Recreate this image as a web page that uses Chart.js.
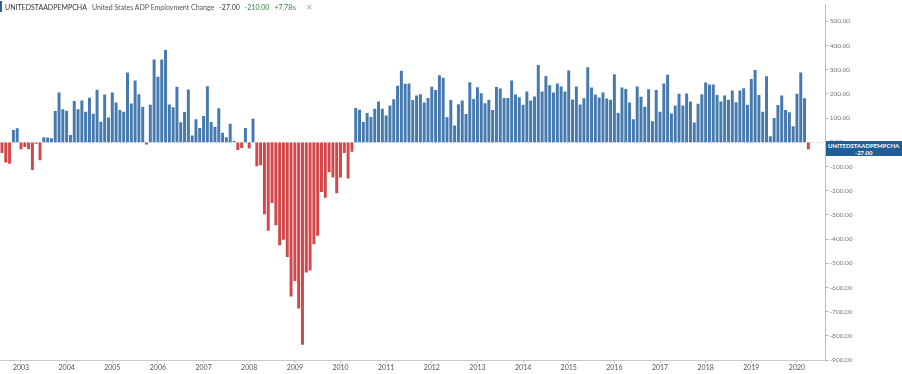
<!DOCTYPE html>
<html>
<head>
<meta charset="utf-8">
<script src="https://cdn.jsdelivr.net/npm/chart.js@4.4.1/dist/chart.umd.min.js"></script>
<style>
  body { margin: 0; background: #fff; font-family: Lato, "Open Sans", sans-serif; }
  .wrap { position: relative; width: 902px; height: 374px; }
  canvas { position: absolute; left: 0; top: 0; }
  .head { position: absolute; left: 0; top: 1px; height: 12px; font-size: 7px; line-height: 12px; white-space: nowrap; color: #333; }
  .head .mark { display: inline-block; width: 2px; height: 11px; background: #2c5f97; vertical-align: top; margin-right: 3px; }
  .head span { margin-right: 5px; }
  .head .desc { color: #555; }
  .head .up { color: #2e8540; }
  .head .pct { font-size: 5px; }
  .head .x { color: #aaa; font-size: 8px; }
  .lastbox { position: absolute; left: 826px; width: 76px; height: 15px; background: #215d97; color: #fff;
             font-size: 6px; font-weight: bold; text-align: center; line-height: 7px; padding-top: 0.5px; box-sizing: border-box; }
</style>
</head>
<body>
<div class="wrap">
  <canvas id="adpChart" width="902" height="374"></canvas>
  <div class="head">
    <span class="mark"></span><span>UNITEDSTAADPEMPCHA</span><span class="desc">United States ADP Employment Change</span><span>-27.00</span><span class="up">-210.00</span><span class="up">+7.78<span class="pct">%</span></span><span class="x">&#x2715;</span>
  </div>
  <div class="lastbox" id="lastBox">UNITEDSTAADPEMPCHA<br>-27.00</div>
</div>
<script>
// monthly ADP employment change (thousands), Jul 2002 .. Mar 2020
const startYear = 2002;
const startMonth = 7;
const adpChange = [
  -43, -82, -87, 49, 57, -27,
  -18, -27, -113, -5, -73, 20, 18, 15, 128, 205, 135, 129,
  29, 169, 135, 171, 125, 183, 117, 216, 84, 196, 101, 205,
  163, 132, 125, 287, 159, 254, 197, 145, -8, 154, 341, 270,
  341, 380, 155, 144, 228, 82, 124, 217, 27, 94, 58, 107,
  230, 83, 63, 139, 38, 20, 75, 4, -30, -22, 58, -24,
  96, -98, -94, -296, -364, -250, -342, -424, -401, -473, -636, -572,
  -686, -836, -537, -529, -420, -385, -204, -228, -122, -144, -209, -144,
  -43, -148, -38, 140, 133, 83, 120, 103, 137, 167, 137, 109,
  151, 177, 232, 294, 241, 242, 173, 192, 197, 163, 182, 228,
  215, 276, 265, 102, 174, 68, 156, 171, 116, 247, 178, 226,
  201, 160, 175, 132, 227, 221, 182, 182, 254, 196, 185, 154,
  209, 171, 188, 318, 209, 273, 234, 204, 242, 229, 209, 295,
  176, 229, 155, 181, 309, 225, 196, 184, 204, 180, 175, 280,
  120, 225, 219, 163, 94, 229, 187, 146, 218, 86, 215, 125,
  242, 278, 118, 151, 199, 151, 200, 167, 80, 158, 197, 246,
  238, 238, 194, 167, 192, 175, 213, 164, 213, 222, 154, 260,
  297, 194, 125, 272, 24, 99, 153, 192, 132, 123, 65, 199,
  287, 181, -27
];
const yearTicks = [2003, 2004, 2005, 2006, 2007, 2008, 2009, 2010, 2011, 2012, 2013, 2014, 2015, 2016, 2017, 2018, 2019, 2020];
const valueTicks = [-900, -800, -700, -600, -500, -400, -300, -200, -100, 0, 100, 200, 300, 400, 500];

const months = adpChange.map((v, i) => {
  const m = startMonth - 1 + i;
  return (startYear + Math.floor(m / 12)) + '-' + String(m % 12 + 1).padStart(2, '0');
});

// bars sit at month end, so a month's bar lands just before the next month's start
const points = months.map((label, i) => {
  const parts = label.split('-');
  return { x: +parts[0] + (+parts[1]) / 12, y: adpChange[i] };
});

const BLUE = '#4679ad';
const RED = '#d2484a';

const zeroLine = {
  id: 'zeroLine',
  beforeDatasetsDraw(chart) {
    const { ctx, chartArea, scales } = chart;
    const y = Math.round(scales.y.getPixelForValue(0)) + 0.5;
    ctx.save();
    ctx.strokeStyle = '#b9d0e8';
    ctx.lineWidth = 1;
    ctx.setLineDash([1, 2]);
    ctx.beginPath();
    ctx.moveTo(chartArea.left, y);
    ctx.lineTo(chartArea.right, y);
    ctx.stroke();
    ctx.restore();
  },
  afterDraw(chart) {
    const box = document.getElementById('lastBox');
    const last = adpChange[adpChange.length - 1];
    const y = chart.scales.y.getPixelForValue(last);
    box.style.top = (y - 7.5) + 'px';
    box.style.left = chart.chartArea.right + 'px';
  }
};

new Chart(document.getElementById('adpChart'), {
  type: 'bar',
  data: {
    datasets: [{
      label: 'UNITEDSTAADPEMPCHA',
      data: points,
      backgroundColor: adpChange.map(v => v < 0 ? RED : BLUE),
      borderWidth: 0,
      barThickness: 2.3
    }]
  },
  options: {
    responsive: false,
    animation: false,
    devicePixelRatio: 1,
    layout: { padding: 0 },
    plugins: { legend: { display: false }, tooltip: { enabled: false } },
    scales: {
      x: {
        type: 'linear',
        min: 2002.54,
        max: 2020.63,
        offset: false,
        afterBuildTicks: axis => { axis.ticks = yearTicks.map(v => ({ value: v })); },
        afterFit: axis => { axis.height = 14; },
        grid: { drawOnChartArea: false, drawTicks: true, tickLength: 3, color: '#c8c8c8', offset: false },
        border: { color: '#c8c8c8' },
        ticks: {
          callback: v => String(v),
          color: '#555',
          padding: 1,
          maxRotation: 0,
          autoSkip: false,
          font: { family: 'Lato', size: 7 }
        }
      },
      y: {
        position: 'right',
        min: -900,
        max: 568,
        afterBuildTicks: axis => { axis.ticks = valueTicks.map(v => ({ value: v })); },
        afterFit: axis => { axis.width = 76.3; },
        grid: { drawOnChartArea: false, drawTicks: true, tickLength: 3, color: '#bcbcbc' },
        border: { color: '#bcbcbc' },
        ticks: {
          callback: v => Number(v).toFixed(2),
          color: '#777',
          padding: 1,
          font: { family: 'Lato', size: 6.5 }
        }
      }
    }
  },
  plugins: [zeroLine]
});
</script>
</body>
</html>
